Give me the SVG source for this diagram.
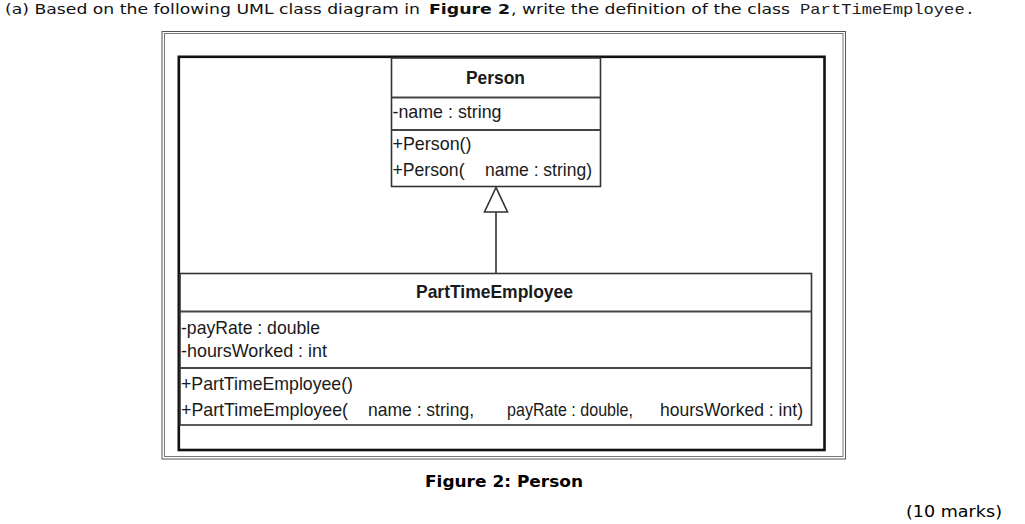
<svg xmlns="http://www.w3.org/2000/svg" width="1025" height="524" viewBox="0 0 1025 524">
<style>
.hdr{font-family:"DejaVu Sans","Verdana",sans-serif;font-size:14px;fill:#111}
.mono{font-family:"Liberation Mono","Courier New",monospace;font-size:15px;fill:#222}
.uml{font-family:"Liberation Sans",Arial,sans-serif;font-size:19px;fill:#1a1a1a}
.umlb{font-family:"Liberation Sans",Arial,sans-serif;font-size:19px;font-weight:bold;fill:#1a1a1a}
.box{fill:#fff;stroke:#333;stroke-width:1.6}
.div{stroke:#444;stroke-width:1.8}
.cap{font-family:"DejaVu Sans","Verdana",sans-serif;font-size:15px;fill:#000}
</style>
<rect width="1025" height="524" fill="#fff"/>
<g id="header">
<text class="hdr" x="5" y="14" textLength="415" lengthAdjust="spacingAndGlyphs">(a) Based on the following UML class diagram in</text>
<text class="hdr" x="429" y="14" font-weight="bold" textLength="81" lengthAdjust="spacingAndGlyphs">Figure 2</text>
<text class="hdr" x="511" y="14" textLength="279" lengthAdjust="spacingAndGlyphs">, write the definition of the class</text>
<text class="mono" x="800" y="14" textLength="175" lengthAdjust="spacingAndGlyphs">PartTimeEmployee.</text>
</g>
<g id="frame">
<rect x="162" y="31.5" width="683.5" height="427.5" fill="none" stroke="#555" stroke-width="1"/>
<rect x="164.5" y="33.5" width="678.5" height="423" fill="none" stroke="#777" stroke-width="1"/>
<rect x="178.8" y="56.8" width="645.7" height="393.2" fill="none" stroke="#111" stroke-width="2.6"/>
</g>
<g id="connectors">
<line x1="496" y1="212" x2="496" y2="274" stroke="#333" stroke-width="1.6"/>
<polygon points="496,187.5 484.5,212 507.5,212" fill="#fff" stroke="#333" stroke-width="1.6"/>
</g>
<g id="person">
<rect class="box" x="391.5" y="58" width="209" height="128.5"/>
<line class="div" x1="391.5" y1="97.5" x2="600.5" y2="97.5"/>
<line class="div" x1="391.5" y1="130" x2="600.5" y2="130"/>
<text class="umlb" x="466" y="84" textLength="59" lengthAdjust="spacingAndGlyphs">Person</text>
<text class="uml" x="392.5" y="118" textLength="109" lengthAdjust="spacingAndGlyphs">-name : string</text>
<text class="uml" x="392.5" y="150" textLength="79" lengthAdjust="spacingAndGlyphs">+Person()</text>
<text class="uml" x="392.5" y="176" textLength="72" lengthAdjust="spacingAndGlyphs">+Person(</text>
<text class="uml" x="485" y="176" textLength="107" lengthAdjust="spacingAndGlyphs">name : string)</text>
</g>
<g id="parttimeemployee">
<rect class="box" x="180" y="273.5" width="631.5" height="151.5"/>
<line class="div" x1="180" y1="311.5" x2="811.5" y2="311.5"/>
<line class="div" x1="180" y1="368" x2="811.5" y2="368"/>
<text class="umlb" x="416" y="298" textLength="157" lengthAdjust="spacingAndGlyphs">PartTimeEmployee</text>
<text class="uml" x="181" y="334" textLength="139" lengthAdjust="spacingAndGlyphs">-payRate : double</text>
<text class="uml" x="181" y="357" textLength="146" lengthAdjust="spacingAndGlyphs">-hoursWorked : int</text>
<text class="uml" x="181" y="390" textLength="172" lengthAdjust="spacingAndGlyphs">+PartTimeEmployee()</text>
<text class="uml" x="181" y="416" textLength="167" lengthAdjust="spacingAndGlyphs">+PartTimeEmployee(</text>
<text class="uml" x="368" y="416" textLength="106" lengthAdjust="spacingAndGlyphs">name : string,</text>
<text class="uml" x="507" y="416" textLength="126" lengthAdjust="spacingAndGlyphs">payRate : double,</text>
<text class="uml" x="660" y="416" textLength="143" lengthAdjust="spacingAndGlyphs">hoursWorked : int)</text>
</g>
<g id="caption">
<text class="cap" x="425" y="487" font-weight="bold" textLength="158" lengthAdjust="spacingAndGlyphs">Figure 2: Person</text>
<text class="cap" x="906" y="517" font-size="14px" textLength="96" lengthAdjust="spacingAndGlyphs">(10 marks)</text>
</g>
</svg>
